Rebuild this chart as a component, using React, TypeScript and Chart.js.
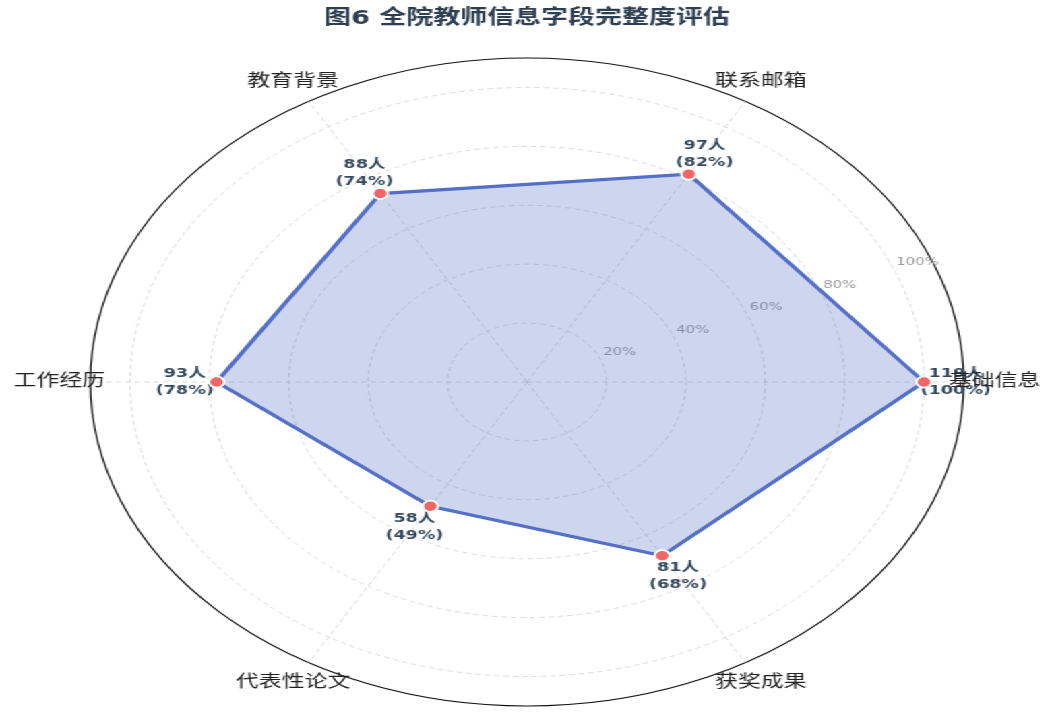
import React, { useEffect, useRef } from 'react';
import { Chart, registerables } from 'chart.js';

Chart.register(...registerables);

// fields in counter-clockwise order starting from the right (east)
const fields = ['基础信息', '联系邮箱', '教育背景', '工作经历', '代表性论文', '获奖成果'];
const teacherCounts = [119, 97, 88, 93, 58, 81];
const completeRates = [100, 81.5, 73.9, 78.2, 48.7, 68.1];

const ringValues = [0, 20, 40, 60, 80, 100, 110];
const tickValues = [20, 40, 60, 80, 100];
const tickLabels = ['20%', '40%', '60%', '80%', '100%'];

const TITLE = '图6 全院教师信息字段完整度评估';
const FONT = "'DejaVu Sans', 'Noto Sans CJK SC', sans-serif";

// the picture is a round polar plot stretched sideways
const VIEW_W = 1054;
const VIEW_H = 717;
const PLOT_W = 782;

// chart.js goes clockwise, the reference goes counter-clockwise
const order = fields.map((_, j) => (fields.length - j) % fields.length);
const labels = order.map((i) => fields[i]);
const rates = order.map((i) => completeRates[i]);
const counts = order.map((i) => teacherCounts[i]);

const polarDecor = {
  id: 'polarDecor',
  beforeDatasetsDraw(chart: any) {
    const r = chart.scales.r;
    const ctx = chart.ctx;
    const a = (22.5 * Math.PI) / 180;
    ctx.save();
    ctx.font = `11px ${FONT}`;
    ctx.fillStyle = '#9a9a9a';
    ctx.textAlign = 'left';
    ctx.textBaseline = 'middle';
    tickValues.forEach((v, k) => {
      const d = r.getDistanceFromCenterForValue(v);
      ctx.fillText(tickLabels[k], r.xCenter + d * Math.cos(a) + 2, r.yCenter - d * Math.sin(a) - 7);
    });
    ctx.restore();
  },
  afterDatasetDraw(chart: any, args: any) {
    if (args.index !== 0) return;
    const r = chart.scales.r;
    const ctx = chart.ctx;
    ctx.save();
    ctx.font = `bold 13px ${FONT}`;
    ctx.fillStyle = '#34495e';
    ctx.textAlign = 'center';
    ctx.textBaseline = 'middle';
    labels.forEach((_, i) => {
      const p = r.getPointPositionForValue(i, rates[i] + 8);
      ctx.fillText(`${counts[i]}人`, p.x, p.y - 8.5);
      ctx.fillText(`(${Math.round(rates[i])}%)`, p.x, p.y + 8.5);
    });
    ctx.restore();
  },
  afterDraw(chart: any) {
    const r = chart.scales.r;
    const ctx = chart.ctx;
    ctx.save();
    ctx.font = `17px ${FONT}`;
    ctx.fillStyle = '#222';
    ctx.textAlign = 'center';
    ctx.textBaseline = 'middle';
    labels.forEach((name, i) => {
      const p = r.getPointPosition(i, r.drawingArea + 23);
      ctx.fillText(name, p.x, p.y);
    });
    ctx.restore();
  },
};

export default function App() {
  const chartRef = useRef<HTMLCanvasElement>(null);
  const chartInstance = useRef<Chart | null>(null);

  useEffect(() => {
    if (!chartRef.current) return;
    if (chartInstance.current) {
      chartInstance.current.destroy();
    }
    const ctx = chartRef.current.getContext('2d');
    if (!ctx) return;

    chartInstance.current = new Chart(ctx, {
      type: 'radar',
      data: {
        labels,
        datasets: [
          {
            label: '完整度',
            data: rates,
            order: 1,
            borderColor: '#5470c6',
            backgroundColor: 'rgba(84, 112, 198, 0.29)',
            borderWidth: 3.3,
            fill: true,
            pointRadius: 0,
            pointHoverRadius: 0,
          },
          {
            label: 'points',
            data: rates,
            order: 0,
            borderWidth: 0,
            borderColor: 'rgba(0,0,0,0)',
            backgroundColor: 'rgba(0,0,0,0)',
            fill: false,
            pointRadius: 5.6,
            pointHoverRadius: 5.6,
            pointBackgroundColor: '#ee6666',
            pointBorderColor: '#ffffff',
            pointBorderWidth: 1.8,
          },
        ],
      },
      options: {
        responsive: true,
        maintainAspectRatio: false,
        animation: false,
        layout: {
          padding: { top: 0, bottom: 11, left: 0, right: 0 },
        },
        plugins: {
          legend: { display: false },
          tooltip: { enabled: false },
          title: {
            display: true,
            text: TITLE,
            color: '#2c3e50',
            font: { family: FONT, size: 20, weight: 'bold' },
            padding: { top: 7, bottom: 27 },
          },
        },
        scales: {
          r: {
            min: 0,
            max: 110,
            startAngle: 90,
            afterBuildTicks: (axis: any) => {
              axis.ticks = ringValues.map((value) => ({ value }));
            },
            ticks: { display: false },
            pointLabels: { display: false },
            grid: {
              circular: true,
              color: (c: any) => (c.index === ringValues.length - 1 ? '#111' : '#d6d6d6'),
              lineWidth: (c: any) => (c.index === ringValues.length - 1 ? 1.2 : 0.9),
            },
            border: {
              dash: (c: any) => (c.index === ringValues.length - 1 ? [] : [4, 3]),
            },
            angleLines: {
              color: '#d6d6d6',
              lineWidth: 0.9,
              borderDash: [4, 3],
            },
          },
        },
      },
      plugins: [polarDecor],
    });

    return () => {
      if (chartInstance.current) {
        chartInstance.current.destroy();
        chartInstance.current = null;
      }
    };
  }, []);

  return (
    <div
      style={{
        position: 'fixed',
        left: 0,
        top: 0,
        width: PLOT_W,
        height: VIEW_H,
        background: '#fff',
        transform: `scaleX(${VIEW_W / PLOT_W})`,
        transformOrigin: 'left top',
      }}
    >
      <canvas ref={chartRef}></canvas>
    </div>
  );
}
